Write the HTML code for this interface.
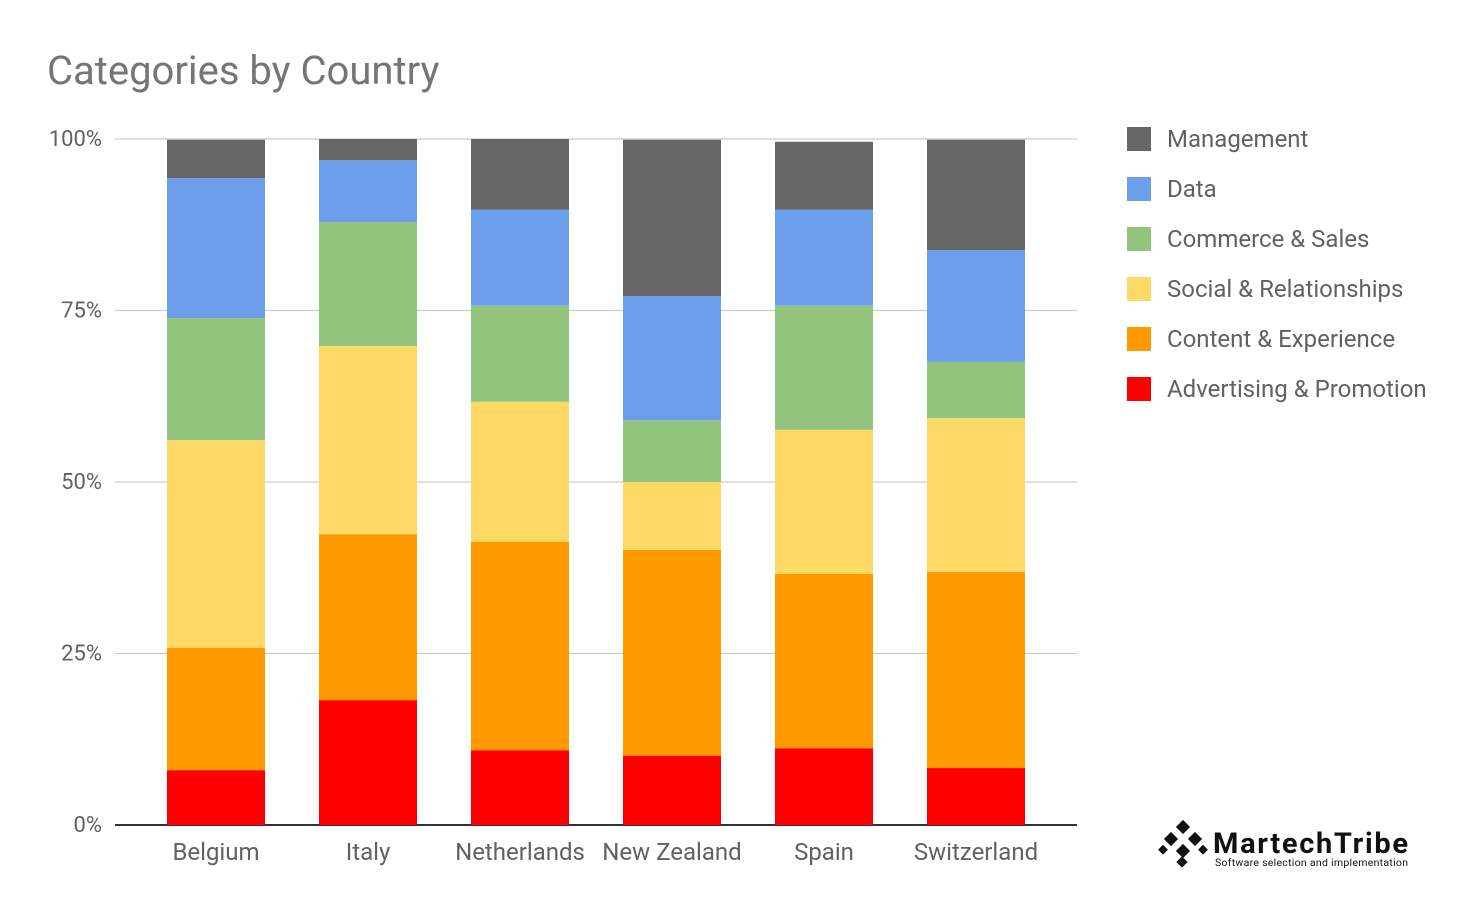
<!DOCTYPE html>
<html><head><meta charset="utf-8"><style>
body{margin:0;background:#fff;font-family:"Liberation Sans",sans-serif}
</style></head><body>
<svg id="chart" width="1474" height="912" xmlns="http://www.w3.org/2000/svg" font-family="Roboto, 'Liberation Sans', sans-serif">
<text x="47" y="84" font-size="40" fill="#757575">Categories by Country</text>
<g id="grid"></g><g id="bars"></g><g id="legend"></g>
<g>
<g fill="#111">
<rect x="1178" y="822" width="10" height="10" transform="rotate(45 1183 827)"/>
<rect x="1166" y="834" width="10" height="10" transform="rotate(45 1171 839)"/>
<rect x="1190" y="834" width="10" height="10" transform="rotate(45 1195 839)"/>
<rect x="1178" y="846" width="10" height="10" transform="rotate(45 1183 851)"/>
<rect x="1160" y="846" width="7" height="7" transform="rotate(45 1163 849)"/>
<rect x="1200" y="846" width="7" height="7" transform="rotate(45 1203 849)"/>
<rect x="1178" y="858" width="8" height="8" transform="rotate(45 1182 862)"/>
</g>
<text x="1213" y="853" font-size="29" font-weight="bold" fill="#111" textLength="195">MartechTribe</text>
<text x="1215" y="866" font-size="10.5" fill="#111" textLength="193">Software selection and implementation</text>
</g>
</svg>
<script>
const categories=["Belgium","Italy","Netherlands","New Zealand","Spain","Switzerland"];
const seriesNames=["Advertising & Promotion","Content & Experience","Social & Relationships","Commerce & Sales","Data","Management"];
const advertising=[8.0,18.2,10.9,10.1,11.2,8.3];
const content=[17.8,24.2,30.4,30.0,25.4,28.6];
const social=[30.3,27.4,20.4,9.9,21.0,22.4];
const commerce=[17.8,18.1,14.0,9.0,18.1,8.2];
const data=[20.4,9.0,14.0,18.1,14.0,16.3];
const management=[5.6,3.1,10.3,22.8,9.9,16.1];
const yTicks=["0%","25%","50%","75%","100%"];
const series=[advertising,content,social,commerce,data,management];
const colors=["#ff0000","#ff9900","#ffd966","#93c47d","#6d9eeb","#666666"];
const NS="http://www.w3.org/2000/svg";
const x0=115,x1=1077,yB=825,yT=139;
const y=v=>yB-(v/100)*(yB-yT);
const step=152;
const xc=i=>216+step*i;
function mk(t,a,p){const e=document.createElementNS(NS,t);for(const k in a)e.setAttribute(k,a[k]);p.appendChild(e);return e;}
const grid=document.getElementById('grid');
yTicks.forEach((t,i)=>{const v=i*25;
 const l=mk('line',{x1:x0,x2:x1,y1:y(v),y2:y(v),stroke:i==0?'#333':'#ccc','stroke-width':i==0?2:1.2},grid);
 
 
 const tx=mk('text',{x:102,y:y(v)+7,'font-size':22,fill:'#616161','text-anchor':'end'},grid);tx.textContent=t;
 
 
});
const bars=document.getElementById('bars');
categories.forEach((c,i)=>{let acc=0;
 series.forEach((s,j)=>{const v=s[i];
  const r=mk('rect',{x:xc(i)-49,y:y(acc+v),width:98,height:y(acc)-y(acc+v),fill:colors[j]},bars);
  
  
  acc+=v;});
 const tx=mk('text',{x:xc(i),y:860,'font-size':24,fill:'#616161','text-anchor':'middle'},bars);tx.textContent=c;
 
 
});
const lg=document.getElementById('legend');
for(let k=0;k<6;k++){const j=5-k;const yy=139+k*50;
 const g=mk('g',{},lg);
 
 
 mk('rect',{x:1127,y:yy-12,width:24,height:24,fill:colors[j]},g);
 const t=mk('text',{x:1167,y:yy+8,'font-size':24,fill:'#616161'},g);t.textContent=seriesNames[j];
}
</script>
</body></html>
